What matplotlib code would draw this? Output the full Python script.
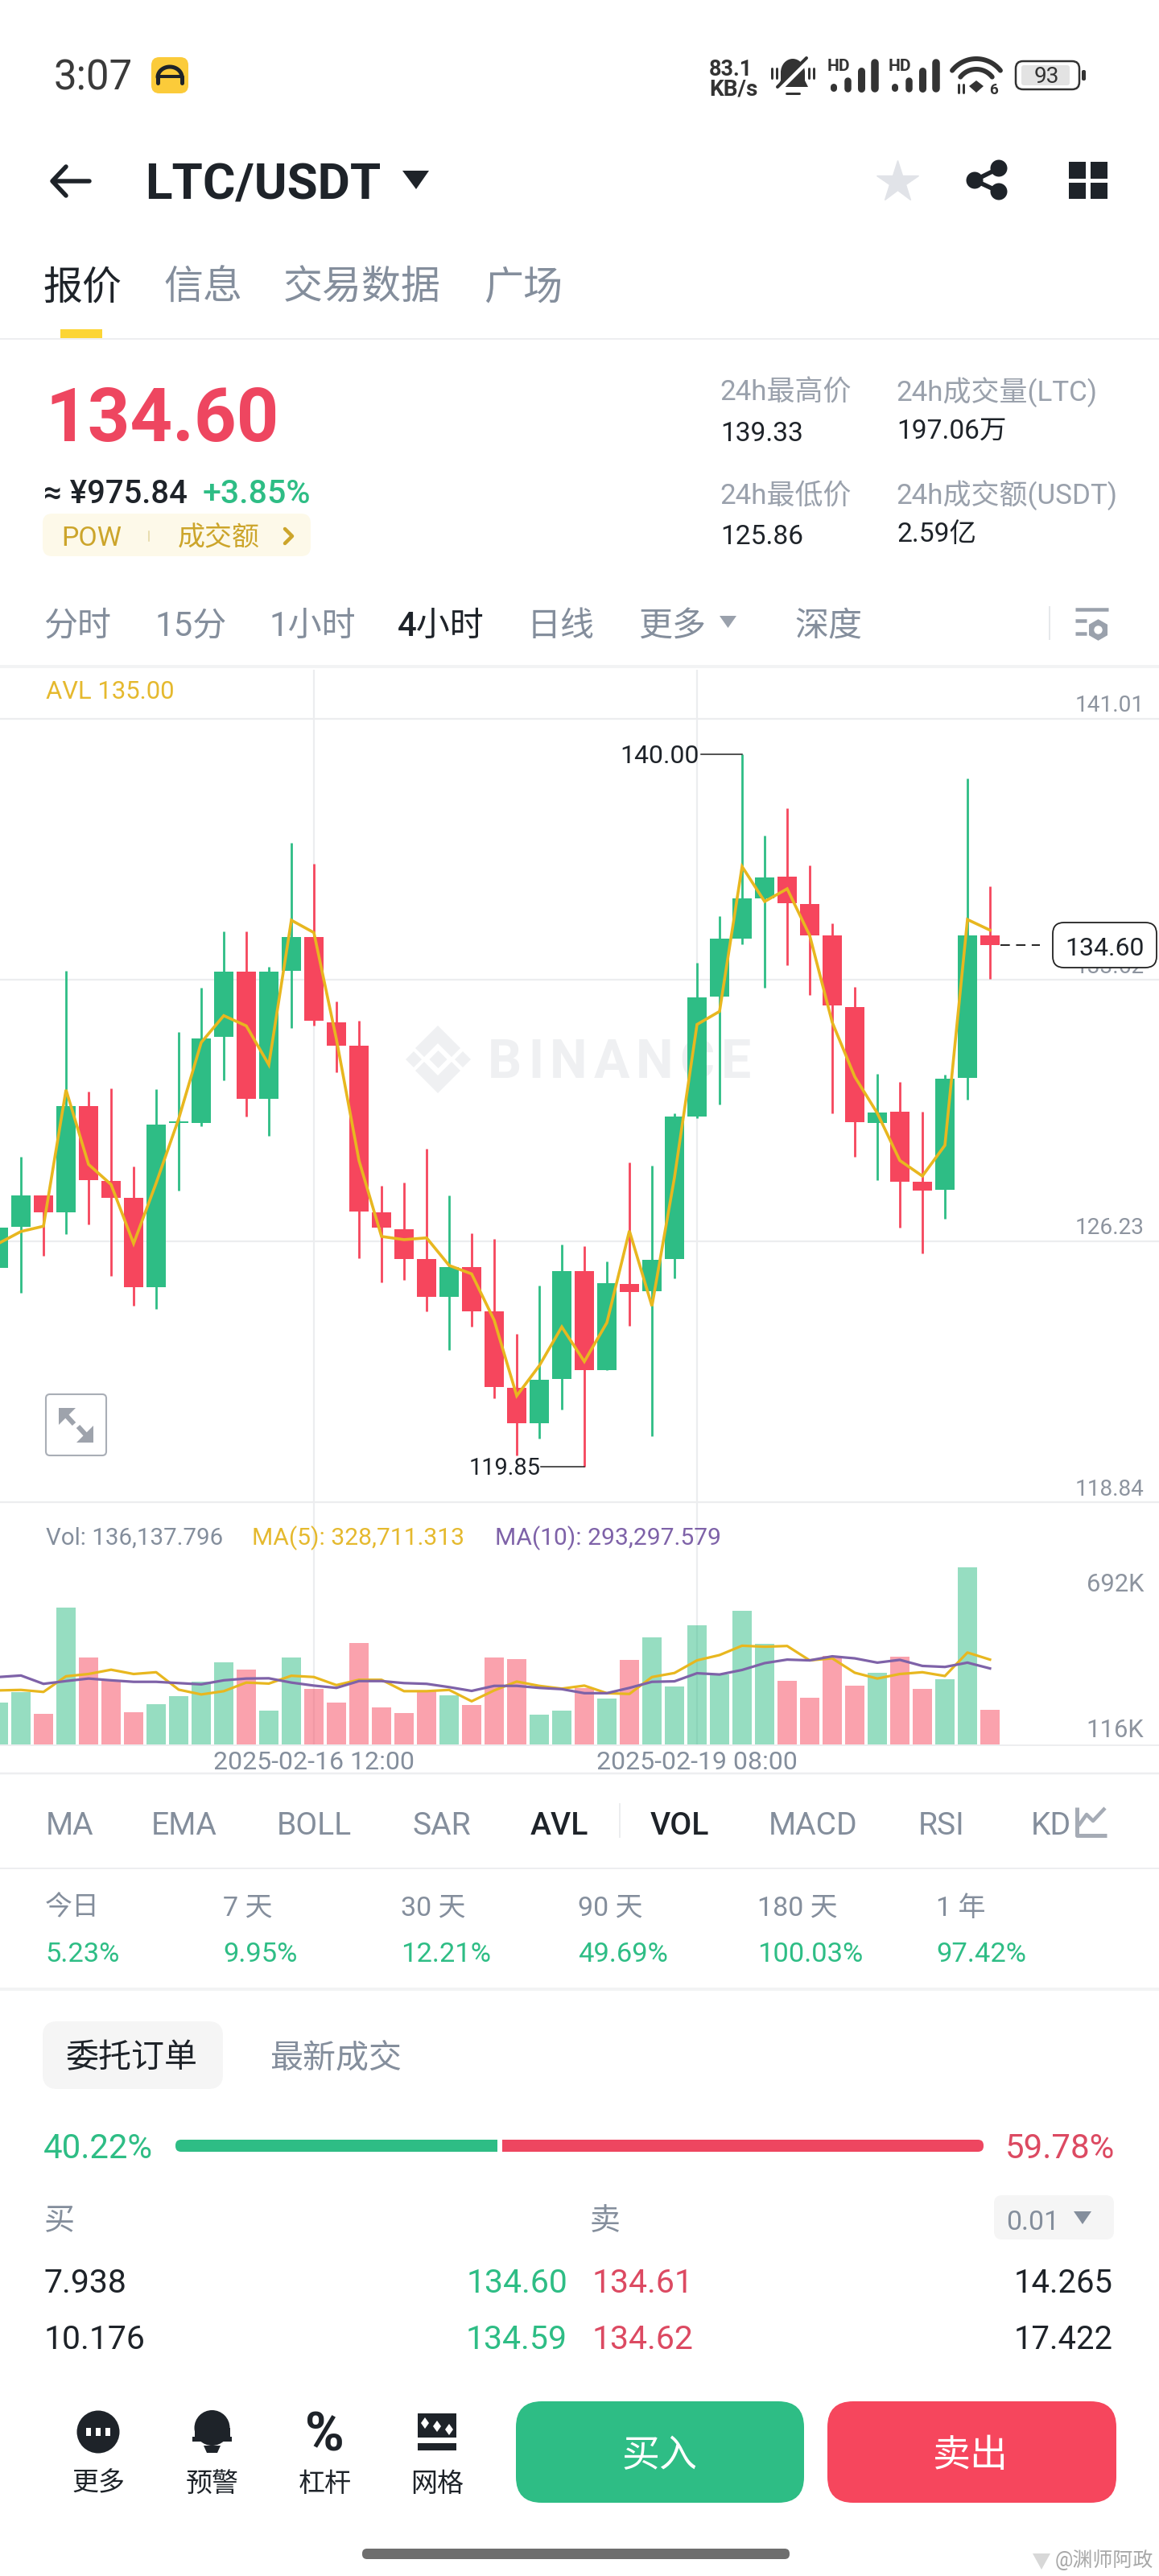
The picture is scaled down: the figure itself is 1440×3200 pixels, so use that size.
#Binance LTC/USDT phone screen: candles + volume on real axes, the app chrome on pixel axes.
import matplotlib
matplotlib.use('Agg')

import numpy as np
import matplotlib.pyplot as plt
from matplotlib.patches import FancyBboxPatch, Rectangle, Polygon, Circle, Ellipse

plt.rcParams['font.family'] = ['Roboto', 'Noto Sans CJK SC', 'DejaVu Sans']

#Candle data
highs = [127.80, 128.62, 127.52, 133.87, 130.46, 130.55, 128.34, 130.53, 132.15, 133.39, 135.00, 135.00, 133.99, 137.50, 136.91,
         133.01, 132.47, 127.80, 127.89, 128.85, 127.52, 126.46, 126.29, 123.61, 124.96, 126.12, 126.09, 125.66, 128.46, 128.37,
         129.85, 134.11, 135.42, 140.00, 137.71, 138.48, 136.87, 135.23, 133.43, 130.96, 130.74, 129.89, 130.94, 139.33, 136.28]
opens = [125.46, 126.64, 127.52, 127.05, 130.05, 127.93, 127.46, 124.93, 129.57, 129.57, 132.00, 133.86, 130.26, 133.87, 134.84,
         132.43, 131.76, 127.05, 126.57, 125.72, 124.65, 125.50, 124.23, 122.08, 121.08, 122.33, 125.38, 122.58, 125.02, 124.81,
         125.72, 129.76, 133.14, 134.80, 135.93, 136.55, 135.78, 134.88, 132.85, 129.57, 129.88, 127.91, 127.67, 130.84, 134.87]
closes = [126.61, 127.52, 127.05, 130.05, 127.96, 127.46, 124.93, 129.53, 129.62, 131.97, 133.85, 130.26, 133.86, 134.84, 132.47,
          131.77, 127.07, 126.60, 125.72, 124.64, 125.50, 124.25, 122.10, 121.08, 122.31, 125.38, 122.58, 125.04, 124.79, 125.70,
          129.76, 133.13, 134.79, 135.93, 136.53, 135.79, 134.89, 132.89, 129.60, 129.87, 127.91, 127.66, 130.83, 134.87, 134.60]
lows = [124.63, 124.77, 125.82, 126.43, 126.70, 125.25, 124.40, 124.31, 127.66, 129.48, 130.78, 129.76, 129.21, 132.26, 132.34,
        131.01, 125.75, 125.06, 125.13, 124.24, 123.15, 123.81, 121.78, 120.17, 120.64, 121.47, 119.85, 122.58, 123.84, 120.71,
        125.18, 129.71, 130.09, 134.64, 133.41, 134.03, 133.20, 129.85, 128.62, 127.96, 126.61, 125.87, 126.85, 130.23, 133.64]
avl = [126.16, 126.50, 126.65, 130.51, 128.40, 127.83, 126.16, 127.87, 129.69, 131.85, 132.61, 132.32, 131.22, 135.31, 134.96,
       131.94, 128.51, 126.36, 126.27, 126.32, 125.54, 125.30, 123.99, 121.85, 122.70, 123.80, 122.82, 123.92, 126.52, 124.39,
       128.03, 132.36, 132.73, 136.83, 135.84, 136.20, 134.88, 132.42, 130.88, 129.85, 128.51, 128.07, 128.94, 135.33, 135.03]

#Volume in thousands
volumes = [165, 207, 119, 542, 342, 250, 126, 157, 191, 248, 325, 295, 134, 344, 218, 164, 400, 147, 124, 209, 193, 154, 342, 337,
           117, 132, 223, 181, 334, 423, 228, 471, 276, 529, 396, 251, 185, 351, 231, 284, 345, 219, 258, 701, 136]
vol_ma5 = [213, 215, 207, 269, 278, 295, 278, 285, 216, 197, 210, 244, 240, 271, 266, 234, 255, 255, 210, 210, 215, 170, 213, 248,
           231, 220, 232, 202, 199, 266, 282, 332, 353, 390, 386, 389, 332, 340, 283, 260, 278, 285, 270, 363, 335]
vol_ma10 = [266, 272, 239, 250, 260, 253, 247, 247, 242, 237, 253, 260, 261, 244, 232, 223, 250, 250, 242, 239, 226, 211, 231, 231,
            223, 218, 202, 202, 223, 247, 249, 281, 276, 294, 321, 335, 332, 348, 340, 323, 334, 310, 306, 323, 300]

price_ticks = [141.01, 133.62, 126.23, 118.84]
price_tick_labels = ['141.01', '133.62', '126.23', '118.84']
vol_ticks = [692, 116]
vol_tick_labels = ['692K', '116K']
date_ticks = [14, 31]
date_labels = ['2025-02-16 12:00', '2025-02-19 08:00']

GREEN = '#2EBD85'
RED = '#F6465D'
DARK = '#1E2329'
GRAY = '#848E9C'
YELLOW = '#E5B92E'
PURPLE = '#7E62A8'
GRID = '#ECEDEF'
LINE = '#EDEEF0'

W, H = 1440, 3200
fig = plt.figure(figsize=(W / 100, H / 100), dpi=100, facecolor='white')


def pixelAxes(z): #Whole-figure axes measured in screen pixels, y going down.
    a = fig.add_axes([0, 0, 1, 1], zorder=z)
    a.set_xlim(0, W)
    a.set_ylim(H, 0)
    a.axis('off')
    return a


def bandAxes(top, bottom, z): #Full-width axes between two screen rows.
    a = fig.add_axes([0, 1 - bottom / H, 1, (bottom - top) / H], zorder=z)
    a.set_xlim(2 / 28, (W + 2) / 28) #one candle every 28 px
    a.axis('off')
    return a


back = pixelAxes(0)
ui = pixelAxes(5)


def txt(x, y, s, size, color=DARK, ha='left', weight='normal', ax=ui, **kw): #size is in pixels, y is the glyph middle
    return ax.text(x, y + size * 0.08, s, fontsize=size * 0.72, color=color, ha=ha, va='center', fontweight=weight, **kw)


def rbox(x0, y0, x1, y1, r, fc, ec='none', lw=0, ax=ui, **kw): #Rounded rectangle
    p = FancyBboxPatch((x0 + r, y0 + r), x1 - x0 - 2 * r, y1 - y0 - 2 * r, boxstyle='round,pad=%f,rounding_size=%f' % (r, r),
                       fc=fc, ec=ec, lw=lw, **kw)
    ax.add_patch(p)
    return p


def seg(xs, ys, lw, color=DARK, ax=ui, cap='round', **kw): #lw is in pixels
    ax.plot(xs, ys, color=color, lw=lw * 0.72, solid_capstyle=cap, **kw)


def poly(pts, color=DARK, ax=ui, **kw):
    ax.add_patch(Polygon(pts, closed=True, fc=color, ec='none', **kw))


#Price chart
PX_PER_UNIT = (1866 - 893) / (141.01 - 118.84)
PRICE_TOP, PRICE_BOTTOM = 832, 1890
ax = bandAxes(PRICE_TOP, PRICE_BOTTOM, 2)
ax.set_ylim(118.84 - (PRICE_BOTTOM - 1866) / PX_PER_UNIT, 141.01 + (893 - PRICE_TOP) / PX_PER_UNIT)
idx = np.arange(len(closes))

for v, lab in zip(price_ticks, price_tick_labels):
    ax.axhline(v, color=GRID, lw=1.6, zorder=1)
    ax.annotate(lab, xy=(1, v), xycoords=ax.get_yaxis_transform(), xytext=(-18.5 * 0.72, 16 * 0.72), textcoords='offset points',
                ha='right', va='center', fontsize=28 * 0.72, color='#8D949F', zorder=2)
for d in date_ticks:
    ax.axvline(d, color=GRID, lw=1.6, zorder=1)

colors = [GREEN if c >= o else RED for o, c in zip(opens, closes)]
ax.vlines(idx, lows, highs, colors=colors, lw=2.0, zorder=3)
ax.bar(idx, np.abs(np.array(closes) - np.array(opens)), bottom=np.minimum(opens, closes), width=0.886, color=colors, zorder=4)
ax.plot(idx, avl, color='#E8B71F', lw=2.6, solid_joinstyle='miter', zorder=5)

#High and low markers
hi = int(np.argmax(highs))
lo = int(np.argmin(lows))
ax.plot([hi - 1.83, hi], [highs[hi], highs[hi]], color='#222222', lw=1.1, zorder=5)
ax.text(hi - 1.9, highs[hi] - 0.05, '%.2f' % highs[hi], fontsize=32 * 0.72, color=DARK, ha='right', va='center', zorder=6)
ax.plot([lo - 1.92, lo], [lows[lo], lows[lo]], color='#222222', lw=1.1, zorder=5)
ax.text(lo - 1.95, lows[lo] - 0.05, '%.2f' % lows[lo], fontsize=29 * 0.72, color=DARK, ha='right', va='center', zorder=6)

#Last price leader
ax.plot([idx[-1] + 0.46, idx[-1] + 2.2], [closes[-1], closes[-1]], color='#222222', lw=1.4, ls=(0, (6, 4)), zorder=5)

#Volume chart
VOL_TOP, VOL_BOTTOM = PRICE_BOTTOM, 2166.7
vax = bandAxes(VOL_TOP, VOL_BOTTOM, 2)
vax.set_ylim(0, (VOL_BOTTOM - VOL_TOP) * 3.188)
for d in date_ticks:
    vax.axvline(d, color=GRID, lw=1.6, zorder=1)
vax.bar(idx, volumes, width=0.886, color=colors, alpha=0.5, zorder=2)
vax.plot(idx, vol_ma5, color='#E8B71F', lw=2.3, zorder=3)
vax.plot(idx, vol_ma10, color=PURPLE, lw=2.3, zorder=4)
for v, lab in zip(vol_ticks, vol_tick_labels):
    vax.annotate(lab, xy=(1, v), xycoords=vax.get_yaxis_transform(), xytext=(-18.5 * 0.72, -19 * 0.72), textcoords='offset points',
                 ha='right', va='center', fontsize=31 * 0.72, color='#8D949F')
for d, lab in zip(date_ticks, date_labels):
    vax.annotate(lab, xy=(d, 0), xytext=(0, -23 * 0.72), textcoords='offset points', ha='center', va='center',
                 fontsize=32 * 0.72, color=GRAY, annotation_clip=False)

#Watermark behind the candles
WM = '#EFF0F2'
poly([(544, 1274), (572, 1302), (561, 1313), (544, 1296), (527, 1313), (516, 1302)], WM, back)
poly([(544, 1358), (572, 1330), (561, 1319), (544, 1336), (527, 1319), (516, 1330)], WM, back)
for cx, r in [(514, 10), (575, 10), (544.5, 11)]:
    poly([(cx - r, 1316), (cx, 1316 - r), (cx + r, 1316), (cx, 1316 + r)], WM, back)
wm_x = 606
for ch, adv in zip('BINANCE', [0.64, 0.28, 0.71, 0.67, 0.71, 0.66, 0.57]): #spaced out letter by letter
    txt(wm_x, 1316, ch, 66, WM, weight='bold', ax=back)
    wm_x += adv * 66 + 8

#Status bar
txt(67, 93, '3:07', 51, '#3A3A3A')
rbox(188, 71, 234, 116, 10, '#FBCB3A')
th = np.linspace(np.pi, 2 * np.pi, 30)
seg(211 + 15 * np.cos(th), 96 + 13 * np.sin(th), 5, DARK)
seg([196, 226], [95, 95], 4, DARK)
seg([196, 196], [95, 103], 5, DARK)
seg([226, 226], [95, 103], 5, DARK)

SB = '#333333'
txt(881, 84, '83.1', 27, SB, weight='bold')
txt(881, 109, 'KB/s', 28, SB, weight='bold')
#muted bell
ui.add_patch(Ellipse((985, 90), 30, 34, fc=SB, ec='none'))
rbox(970, 90, 1000, 108, 2, SB)
poly([(966, 108), (1004, 108), (999, 98), (971, 98)], SB)
seg([977, 993], [116, 116], 3, SB)
seg([968, 1004], [110, 74], 8, 'white')
seg([966, 1002], [108, 72], 4, SB)
for xx in [959, 965, 1005, 1011]:
    seg([xx, xx], [85, 97], 3, SB)
#two HD signal blocks
for x0 in [1031, 1107]:
    txt(x0 - 3, 81, 'HD', 21, SB, weight='bold')
    for k, top in zip(range(4), [108, 100, 88, 78]):
        seg([x0 + 5 + k * 17, x0 + 5 + k * 17], [top, 110], 8 + k * 0.5, SB)
#wifi
for r in [38, 25]:
    th = np.linspace(np.radians(218), np.radians(322), 30)
    seg(1213 + r * np.cos(th), 111 + r * np.sin(th), 6, SB)
poly([(1204, 107), (1213, 100), (1222, 107), (1213, 115)], SB)
txt(1229, 110, '6', 19, SB, weight='bold')
seg([1191, 1191], [105, 115], 3, SB)
seg([1197, 1197], [105, 115], 3, SB)
#battery
rbox(1262, 76, 1341, 111, 9, 'white', SB, 1.8)
rbox(1269, 81, 1329, 106, 3, '#E3E3E3')
txt(1300, 93, '93', 28, SB, ha='center')
rbox(1344, 87, 1349, 100, 2, SB)

#Title bar
seg([66, 111], [225, 225], 5.5, DARK)
seg([82, 65, 82], [207, 225, 243], 5.5, DARK)
txt(180, 226, 'LTC/USDT', 62, DARK, weight='bold')
poly([(500, 212), (533, 212), (517, 235)], DARK)
ui.plot([1115], [226], marker='*', ms=54 * 0.72, color='#E1E3E8', mec='#E1E3E8')
seg([1211, 1241], [224, 209], 5.5)
seg([1211, 1241], [224, 238], 5.5)
for cx, cy in [(1211, 224), (1241, 209), (1241, 238)]:
    ui.add_patch(Circle((cx, cy), 10.5, fc=DARK, ec='none'))
for x0, y0 in [(1328, 201), (1354.5, 201), (1328, 226.5), (1354.5, 226.5)]:
    ui.add_patch(Rectangle((x0, y0), 21, 20.5, fc=DARK, ec='none'))

#Tabs
tabs = ['报价', '信息', '交易数据', '广场']
tab_x = [53, 203, 352, 601]
for i, (s, x) in enumerate(zip(tabs, tab_x)):
    txt(x, 355, s, 49, DARK if i == 0 else GRAY)
ui.add_patch(Rectangle((75, 409), 52, 11, fc='#FCD535', ec='none'))
seg([0, W], [421, 421], 2, LINE, cap='butt')

#Price header
txt(56, 515, '134.60', 92, '#EE4660', weight='bold')
txt(54, 611, '≈ ¥975.84', 40, DARK, weight='medium')
txt(252, 611, '+3.85%', 41, GREEN, weight='medium')
rbox(53, 638, 386, 691, 12, '#FDF9E9')
txt(76, 666, 'POW', 34, '#CCA52B')
seg([185, 185], [660, 672], 2, '#E8DDB0')
txt(221, 666, '成交额', 34, '#CCA52B')
seg([354, 363, 354], [657, 666, 675], 4.5, '#CCA52B')

stat_labels = ['24h最高价', '24h最低价', '24h成交量(LTC)', '24h成交额(USDT)']
stat_values = ['139.33', '125.86', '197.06万', '2.59亿']
stat_x = [894, 894, 1113, 1113]
stat_label_y = [485, 613, 484, 612]
stat_value_y = [536, 664, 533, 661]
for s, v, x, y0, y1 in zip(stat_labels, stat_values, stat_x, stat_label_y, stat_value_y):
    txt(x, y0, s, 35, '#9AA1AC')
    txt(x + 1, y1, v, 33.5, DARK)

#Timeframe row
frames = ['分时', '15分', '1小时', '4小时', '日线', '更多', '深度']
frame_x = [54, 193, 335, 494, 655, 793, 987]
for s, x in zip(frames, frame_x):
    if s == '4小时':
        txt(x, 775, s, 42, DARK, weight='medium')
    else:
        txt(x, 775, s, 42, GRAY)
poly([(894, 765), (915, 765), (904.5, 780)], '#9AA1AC')
seg([1304, 1304], [753, 795], 2, '#E6E8EB', cap='butt')
seg([1336, 1377], [757, 757], 4.5, '#9AA1AC', cap='butt')
seg([1336, 1350], [771, 771], 4.5, '#9AA1AC', cap='butt')
seg([1336, 1350], [787, 787], 4.5, '#9AA1AC', cap='butt')
ui.plot([1364], [782], marker='h', ms=25 * 0.72, color='#9AA1AC', mec='#9AA1AC')
ui.plot([1364], [782], marker='o', ms=9 * 0.72, color='white', mec='white')

#Chart frame details
seg([0, W], [828, 828], 4, '#F2F3F4', cap='butt')
txt(57, 857, 'AVL 135.00', 31, YELLOW)
txt(57, 1908, 'Vol: 136,137.796', 29.5, GRAY)
txt(313, 1908, 'MA(5): 328,711.313', 30, YELLOW)
txt(615, 1908, 'MA(10): 293,297.579', 30, PURPLE)
seg([0, W], [2167.5, 2167.5], 2, LINE, cap='butt')
seg([0, W], [2203, 2203], 2.5, LINE, cap='butt')

#Current price tag
rbox(1308, 1146, 1437, 1202, 14, 'white', '#222222', 1.3)
txt(1373, 1176, '134.60', 32, DARK, ha='center')

#Expand button
rbox(57, 1732, 132, 1808, 5, 'white', '#A9AEB6', 1.5)
AR = '#9EA3AC'
poly([(73, 1749), (94, 1749), (73, 1770)], AR)
seg([81, 92], [1757, 1769], 6, AR, cap='butt')
poly([(116, 1792), (95, 1792), (116, 1771)], AR)
seg([108, 97], [1784, 1772], 6, AR, cap='butt')

#Indicator row
inds = ['MA', 'EMA', 'BOLL', 'SAR', 'AVL', 'VOL', 'MACD', 'RSI', 'KD']
ind_x = [57, 188, 344, 512, 659, 808, 955, 1141, 1281]
for s, x in zip(inds, ind_x):
    if s in ('AVL', 'VOL'):
        txt(x, 2265, s, 39, DARK, weight='medium')
    else:
        txt(x, 2265, s, 39, GRAY)
seg([769.5, 769.5], [2240, 2283], 1.5, '#E6E8EB', cap='butt')
for k in range(6):
    ui.add_patch(Rectangle((1304 + k * 4, 2240), 32, 50, fc='white', ec='none', alpha=0.5))
seg([1338, 1338, 1375], [2245, 2280, 2280], 5, '#A5ABB5', cap='butt')
seg([1340, 1350, 1358, 1373], [2268, 2254, 2262, 2246], 4.5, '#A5ABB5', cap='butt')

#Performance row
seg([0, W], [2321, 2321], 2, LINE, cap='butt')
periods = ['今日', '7 天', '30 天', '90 天', '180 天', '1 年']
period_vals = ['5.23%', '9.95%', '12.21%', '49.69%', '100.03%', '97.42%']
period_x = [56, 277, 498, 718, 941, 1163]
for s, v, x in zip(periods, period_vals, period_x):
    txt(x, 2368, s, 34, GRAY)
    txt(x, 2425, v, 34.5, GREEN)
seg([0, W], [2471, 2471], 4, '#F2F3F4', cap='butt')

#Order book header
rbox(53, 2511, 277, 2595, 18, '#F5F5F5')
txt(82, 2554, '委托订单', 41, DARK)
txt(335, 2554, '最新成交', 41, GRAY)

buy_pct = 40.22
sell_pct = 59.78
txt(54, 2666, '%.2f%%' % buy_pct, 42, GREEN)
txt(1249, 2666, '%.2f%%' % sell_pct, 42, '#DC4A62')
rbox(218, 2658, 618, 2673, 7, GREEN)
ui.add_patch(Rectangle((600, 2658), 18, 15, fc=GREEN, ec='none'))
rbox(624, 2658, 1222, 2673, 7, '#EE4660')
ui.add_patch(Rectangle((624, 2658), 18, 15, fc='#EE4660', ec='none'))

txt(55, 2756, '买', 38, GRAY)
txt(733, 2756, '卖', 38, GRAY)
rbox(1235, 2727, 1384, 2782, 10, '#F5F5F5')
txt(1250, 2758, '0.01', 34, GRAY)
poly([(1334, 2747), (1356, 2747), (1345, 2763)], GRAY)

bid_sizes = ['7.938', '10.176']
bid_prices = ['134.60', '134.59']
ask_prices = ['134.61', '134.62']
ask_sizes = ['14.265', '17.422']
book_y = [2833, 2903]
for a, b, c, d, y in zip(bid_sizes, bid_prices, ask_prices, ask_sizes, book_y):
    txt(55, y, a, 41, DARK)
    txt(705, y, b, 41, GREEN, ha='right')
    txt(736, y, c, 41, '#DC4A62')
    txt(1383, y, d, 40, DARK, ha='right')

#Bottom bar
ui.add_patch(Circle((122, 3021), 26.5, fc=DARK, ec='none'))
for xx in [110, 122, 134]:
    ui.add_patch(Rectangle((xx - 3, 3016), 6, 10, fc='white', ec='none'))
ui.add_patch(Ellipse((263.5, 3016), 44, 44, fc=DARK, ec='none'))
ui.add_patch(Rectangle((241.5, 3016), 44, 17, fc=DARK, ec='none'))
ui.add_patch(Rectangle((239, 3027), 49, 6, fc=DARK, ec='none'))
poly([(253, 3038), (274, 3038), (270, 3047), (257, 3047)], DARK)
txt(403, 3021, '%', 66, DARK, ha='center', weight='bold')
ui.add_patch(Rectangle((519, 2998), 48, 30, fc=DARK, ec='none'))
ui.add_patch(Rectangle((519, 3035), 48, 9, fc=DARK, ec='none'))
for cx, cy in [(528, 3010), (543, 3014), (558, 3018)]:
    poly([(cx - 5, cy), (cx, cy - 7), (cx + 5, cy), (cx, cy + 7)], 'white')
foot = ['更多', '预警', '杠杆', '网格']
foot_x = [122, 263.5, 404, 543.6]
for s, x in zip(foot, foot_x):
    txt(x, 3083, s, 33, DARK, ha='center')

rbox(641, 2983, 999, 3109, 32, GREEN)
rbox(1028, 2983, 1387, 3109, 32, RED)
txt(820, 3047, '买入', 47, 'white', ha='center', weight='medium')
txt(1206, 3047, '卖出', 47, 'white', ha='center', weight='medium')

rbox(450, 3166, 981, 3179, 6, '#6E6E6E')
txt(1311, 3178, '@渊师阿政', 25, '#A8A8A8')
poly([(1283, 3172), (1305, 3172), (1294, 3192)], '#C8C8C8', alpha=0.7)

fig.savefig('out.png', dpi=100, facecolor='white')
